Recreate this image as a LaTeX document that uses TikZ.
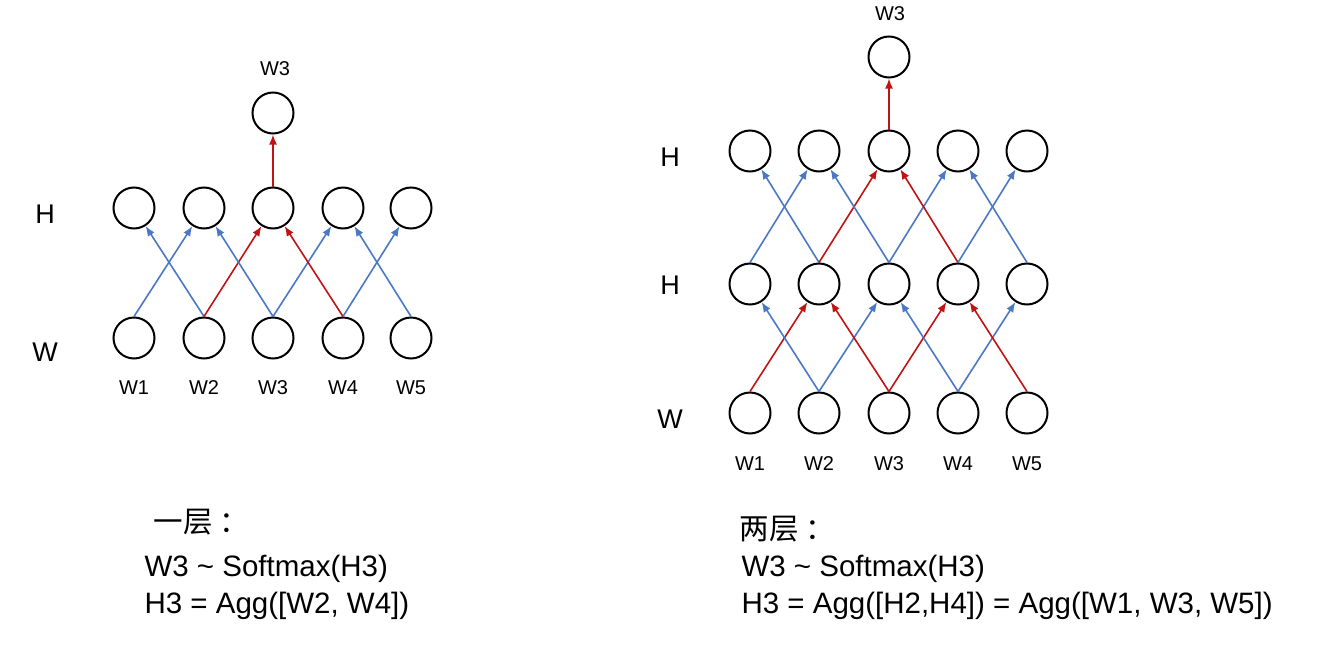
\documentclass[tikz,border=0pt]{standalone}
\usepackage{fontspec}
\setmainfont{Liberation Sans}
\newfontfamily\cjk{Noto Sans CJK SC}
\begin{document}
\begin{tikzpicture}[x=1pt,y=-1pt,
  nd/.style={circle,draw=black,line width=2pt,minimum size=41pt,inner sep=0pt},
  bl/.style={color={rgb,255:red,74;green,120;blue,196},line width=1.6pt,-{Latex[length=10pt,width=8pt]}},
  rd/.style={color={rgb,255:red,192;green,20;blue,20},line width=1.6pt,-{Latex[length=10pt,width=8pt]}},
  lab/.style={font=\fontsize{20}{23}\selectfont},
  big/.style={font=\fontsize{27}{30}\selectfont},
  txt/.style={font=\fontsize{29.5}{32}\selectfont,anchor=west}]
\useasboundingbox (0,0) rectangle (1342,664);
\usetikzlibrary{arrows.meta}
% left diagram
\foreach \i/\x in {1/134,2/204,3/273,4/343,5/411}{
  \node[nd] (lw\i) at (\x,338) {};
  \node[nd] (lh\i) at (\x,208) {};
  \node[lab] (lwl\i) at (\x,388) {W\i};
}
\node[nd] (lt) at (273,113) {};
\node[lab] (ltl) at (275,69) {W3};
\node[big] (lH) at (45,214) {H};
\node[big] (lW) at (45,352) {W};
\draw[bl] (lw1.north) -- (lh2);
\draw[bl] (lw2.north) -- (lh1);
\draw[rd] (lw2.north) -- (lh3);
\draw[bl] (lw3.north) -- (lh2);
\draw[bl] (lw3.north) -- (lh4);
\draw[rd] (lw4.north) -- (lh3);
\draw[bl] (lw4.north) -- (lh5);
\draw[bl] (lw5.north) -- (lh4);
\draw[rd] (lh3.north) -- (lt.south);
% right diagram
\foreach \i/\x in {1/750,2/819,3/889,4/958,5/1027}{
  \node[nd] (rw\i) at (\x,413) {};
  \node[nd] (rm\i) at (\x,284) {};
  \node[nd] (rh\i) at (\x,151) {};
  \node[lab] (rwl\i) at (\x,464) {W\i};
}
\node[nd] (rt) at (889,57) {};
\node[lab] (rtl) at (890,14) {W3};
\node[big] (rH1) at (670,157) {H};
\node[big] (rH2) at (670,285) {H};
\node[big] (rW) at (670,419) {W};
\draw[rd] (rw1.north) -- (rm2);
\draw[bl] (rw2.north) -- (rm1);
\draw[bl] (rw2.north) -- (rm3);
\draw[rd] (rw3.north) -- (rm2);
\draw[rd] (rw3.north) -- (rm4);
\draw[bl] (rw4.north) -- (rm3);
\draw[bl] (rw4.north) -- (rm5);
\draw[rd] (rw5.north) -- (rm4);
\draw[bl] (rm1.north) -- (rh2);
\draw[bl] (rm2.north) -- (rh1);
\draw[rd] (rm2.north) -- (rh3);
\draw[bl] (rm3.north) -- (rh2);
\draw[bl] (rm3.north) -- (rh4);
\draw[rd] (rm4.north) -- (rh3);
\draw[bl] (rm4.north) -- (rh5);
\draw[bl] (rm5.north) -- (rh4);
\draw[rd] (rh3.north) -- (rt.south);
% texts
\node[txt] (t1) at (150,522) {\cjk 一层 ：};
\node[txt] (t2) at (141,569) {W3 \textasciitilde{} Softmax(H3)};
\node[txt] (t3) at (141,606) {H3 = Agg([W2, W4])};
\node[txt] (t4) at (736,529) {\cjk 两层 ：};
\node[txt] (t5) at (738,569) {W3 \textasciitilde{} Softmax(H3)};
\node[txt] (t6) at (738,606) {H3 = Agg([H2,H4]) = Agg([W1, W3, W5])};
\end{tikzpicture}
\end{document}
